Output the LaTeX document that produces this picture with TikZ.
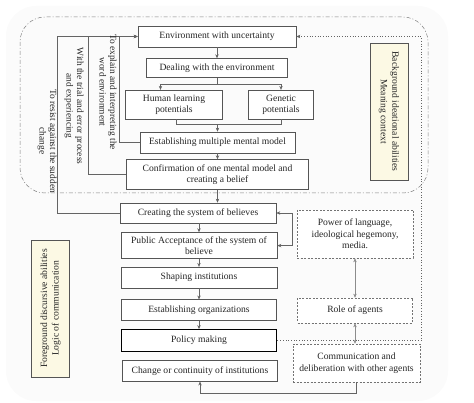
\documentclass[tikz,border=0pt]{standalone}
\usepackage{fontspec}
\setmainfont{Liberation Serif}
\usetikzlibrary{arrows.meta,positioning}
\definecolor{boxline}{RGB}{85,85,85}
\definecolor{linkgrey}{RGB}{100,100,100}
\definecolor{creamfill}{RGB}{252,249,228}
\definecolor{paper}{RGB}{251,251,251}

\begin{document}
\begin{tikzpicture}[
    x=1pt, y=-1pt,
    stepbox/.style={rectangle, draw=boxline, line width=0.6pt, fill=white,
        align=center, inner sep=1.5pt, text=black!85,
        font=\fontsize{9.6}{11.5}\selectfont},
    agentbox/.style={stepbox, draw=black!55, dash pattern=on 2pt off 1.5pt},
    layerbox/.style={stepbox, fill=creamfill, minimum width=137pt, minimum height=38pt},
    sidelabel/.style={align=center, inner sep=0pt, text=black!85,
        font=\fontsize{9.4}{10.5}\selectfont},
    flow/.style={-{Stealth[length=4pt,width=3.4pt]}, draw=linkgrey, line width=0.6pt},
    link/.style={{Stealth[length=4pt,width=3.4pt]}-{Stealth[length=4pt,width=3.4pt]},
        draw=black!45, line width=0.4pt},
    >=Stealth
]
\useasboundingbox (0,0) rectangle (474,403);
\fill[paper, rounded corners=30pt] (6,6) rectangle (448,401);

% upper part: meaning context
\draw[black!50, line width=0.5pt, rounded corners=25pt,
      dash pattern=on 4pt off 2pt on 1pt off 2pt] (20,17) rectangle (428,193);

\node[stepbox, minimum width=158pt, minimum height=21pt] (env) at (217,36.5) {Environment with uncertainty};
\node[stepbox, below=11pt of env, minimum width=141pt, minimum height=19pt] (deal) {Dealing with the environment};
\node[stepbox, below=12pt of deal, xshift=-43pt, minimum width=97pt, minimum height=29pt] (human) {Human learning\\potentials};
\node[stepbox, below=12pt of deal, xshift=64pt, minimum width=65pt, minimum height=29pt] (genetic) {Genetic\\potentials};
\node[stepbox, minimum width=155pt, minimum height=21pt] (multi) at (217.5,142.5) {Establishing multiple mental model};
\node[stepbox, below=6pt of multi, minimum width=182pt, minimum height=30pt] (confirm) {Confirmation of one mental model and\\creating a belief};

\node[layerbox, rotate=-90] (background) at (389,111.5) {Background ideational abilities\\Meaning context};

% lower part: logic of communication
\node[stepbox, minimum width=156pt, minimum height=20pt] (creating) at (198,213) {Creating the system of believes};
\node[stepbox, below=9pt of creating, xshift=1pt, minimum width=156pt, minimum height=26pt] (public) {Public Acceptance of the system of\\believe};
\node[stepbox, below=8pt of public, minimum width=156pt, minimum height=21pt] (shaping) {Shaping institutions};
\node[stepbox, below=11pt of shaping, minimum width=155pt, minimum height=21pt] (organize) {Establishing organizations};
\node[stepbox, below=8pt of organize, minimum width=155pt, minimum height=22pt,
      draw=black, line width=0.8pt] (policy) {Policy making};
\node[stepbox, below=8pt of policy, xshift=1pt, minimum width=155pt, minimum height=21pt] (change) {Change or continuity of institutions};

\node[agentbox, minimum width=116pt, minimum height=48pt] (power) at (355,234) {Power of language,\\ideological hegemony,\\media.};
\node[agentbox, minimum width=115pt, minimum height=25pt] (role) at (355,310.5) {Role of agents};
\node[agentbox, minimum width=127pt, minimum height=38pt] (comm) at (356.5,363) {Communication and\\deliberation with other agents};

\node[layerbox, rotate=90] (foreground) at (50.5,308.5) {Foreground discursive abilities\\Logic of communication};

% main flow
\draw[flow] (env.south) -- (env.south |- deal.north);
\draw[linkgrey, line width=0.6pt] (deal.south) -- ++(0,-6pt) coordinate (split);
\draw[flow] (split) -| ([xshift=-13.5pt]human.north);
\draw[flow] (split) -| (genetic.north);
\draw[linkgrey, line width=0.6pt] ([xshift=2.5pt]human.south) -- ++(0,-5pt) coordinate (merge) -| (genetic.south);
\draw[flow] (merge -| multi.north) -- (multi.north);
\draw[flow] (multi.south) -- (multi.south |- confirm.north);
\draw[flow] (confirm.south) -- (confirm.south |- creating.north);
\draw[flow] (creating.south -| public.north) -- (public.north);
\draw[flow] (public.south) -- (public.south |- shaping.north);
\draw[flow] (shaping.south) -- (shaping.south |- organize.north);
\draw[flow] (organize.south) -- (organize.south |- policy.north);

% feedback loops
\draw[flow] (multi.west) -- ++(-20pt,0) |- (env.west);
\draw[flow] (confirm.west) -- ++(-38pt,0) |- (env.west);
\draw[flow] (creating.west) -- ++(-62pt,0) |- (env.west);
\node[sidelabel, rotate=-90] (explainlbl) at (108,92) {To explain and interpreting the\\word environment};
\node[sidelabel, rotate=-90] (triallbl) at (74,106) {With the trial and error process\\and experiencing};
\node[sidelabel, rotate=-90] (resistlbl) at (47,141) {To resist against the sudden\\change};

% agents
\draw[flow, {Stealth[length=4pt,width=3.4pt]}-{Stealth[length=4pt,width=3.4pt]}] (creating.east) -- ++(16pt,0) |- (public.east);
\draw[link] (power) -- (role);
\draw[link] (role.south) -- (role.south |- comm.north);
\draw[flow] (comm.south) -- ++(0,-11pt) -| (change.south);
\draw[linkgrey, line width=0.7pt, dotted, {Stealth[length=4pt,width=3.4pt]}-] (env.east) -- ++(125pt,0) |- (policy.east);
\end{tikzpicture}
\end{document}
